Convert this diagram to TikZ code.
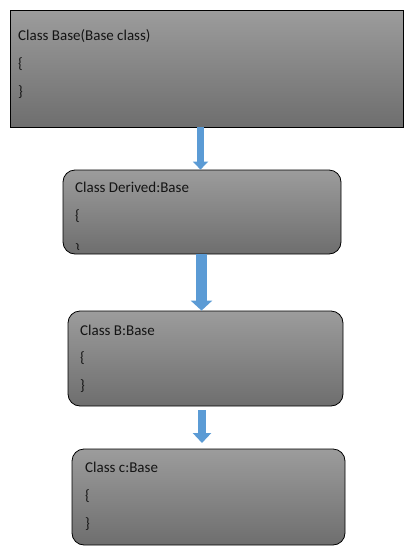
\documentclass[tikz,border=0pt]{standalone}
\usepackage{fontspec}
\setmainfont{Carlito}
\usetikzlibrary{arrows.meta}
\definecolor{boxtop}{RGB}{156,156,156}
\definecolor{boxbot}{RGB}{110,110,110}
\definecolor{arrowblue}{RGB}{91,155,213}
\definecolor{txt}{RGB}{20,20,20}
\begin{document}
\begin{tikzpicture}[x=1pt,y=-1pt,
  classbox/.style={draw=black, line width=0.8pt, top color=boxtop, bottom color=boxbot, inner sep=0pt},
  roundbox/.style={classbox, rounded corners=12pt},
  codeline/.style={anchor=west, text=txt, font=\fontsize{15}{18}\selectfont, inner sep=0pt},
  inherit/.style={draw=arrowblue, line width=#1, -{Triangle[width=17pt,length=9pt]}},
]
\useasboundingbox (0,0) rectangle (411,549);
% boxes
\node[classbox, minimum width=393pt, minimum height=117pt] (b1) at (206.5,68.5) {};
\node[roundbox, minimum width=278pt, minimum height=84pt] (b2) at (202,212) {};
\node[roundbox, minimum width=275pt, minimum height=95pt] (b3) at (205.5,358.5) {};
\node[roundbox, minimum width=273pt, minimum height=96pt] (b4) at (208.5,497) {};
% texts
\node[codeline] (t1a) at (18,36) {Class Base(Base class)};
\node[codeline] (t1b) at (18,64) {\{};
\node[codeline] (t1c) at (18,92) {\}};
\node[codeline] (t2a) at (75,187) {Class Derived:Base};
\node[codeline] (t2b) at (75,216) {\{};
\begin{scope}
\clip (63,170) rectangle (341,249);
\node[codeline] (t2c) at (75,250) {\}};
\end{scope}
\node[codeline] (t3a) at (80,330) {Class B:Base};
\node[codeline] (t3b) at (80,358) {\{};
\node[codeline] (t3c) at (80,386) {\}};
\node[codeline] (t4a) at (85,467) {Class c:Base};
\node[codeline] (t4b) at (85,496) {\{};
\node[codeline] (t4c) at (85,524) {\}};
% arrows
\coordinate (a3s) at (202,410);
\coordinate (a3e) at (202,443);
\draw[inherit=7pt, -{Triangle[width=15pt,length=8pt]}] (b1.south -| 200.5,0) -- (b2.north -| 200.5,0);
\draw[inherit=11pt, -{Triangle[width=21pt,length=10pt]}] (b2.south -| 201.5,0) -- (b3.north -| 201.5,0);
\draw[inherit=8pt, -{Triangle[width=18pt,length=10pt]}] (a3s) -- (a3e);
\end{tikzpicture}
\end{document}
